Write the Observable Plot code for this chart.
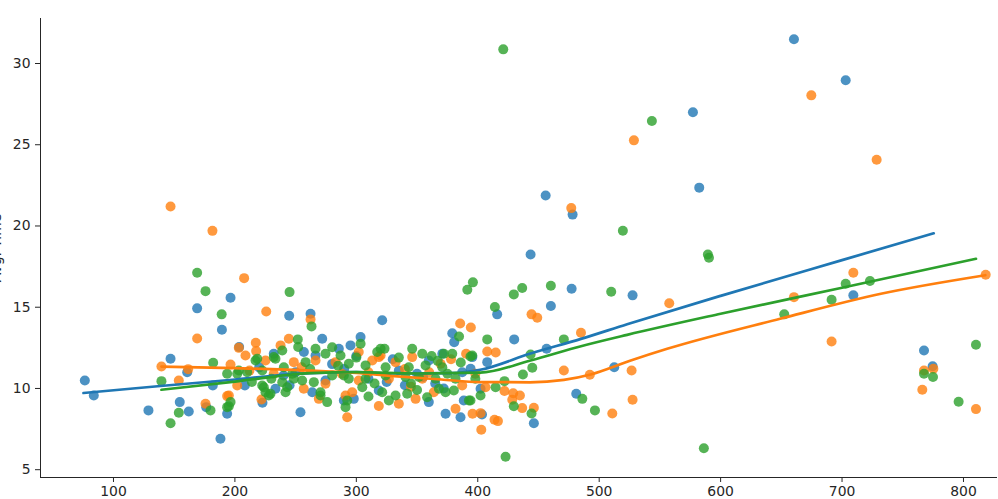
<!DOCTYPE html>
<html><head><meta charset="utf-8">
<script src="https://cdn.jsdelivr.net/npm/d3@7"></script>
<script src="https://cdn.jsdelivr.net/npm/@observablehq/plot@0.6"></script>
<style>
body{margin:0;background:#fff;overflow:hidden}
#chart{position:relative;width:998px;height:499px;overflow:hidden}
</style>
</head><body><div id="chart"></div>
<script>
// Scatter points per group: [x, y]
const blueSeries = [
[76.4,10.49],[83.8,9.57],[128.8,8.65],[147,11.83],[154.6,9.16],[162,8.58],[160.7,11.0],[168.9,14.93],
[189.3,13.61],[196.4,15.58],[176.4,8.85],[193.6,8.44],[188.1,6.9],[181.8,10.18],[203.5,12.55],[222.7,9.12],
[244.7,14.48],[254,8.54],[232,12.14],[208.2,10.18],[262.3,14.6],[271.9,13.06],[256.8,12.24],[285.6,12.44],
[266.4,12.03],[233.4,9.98],[263.7,9.77],[289.7,9.26],[274.6,10.49],[321.3,14.2],[303.5,13.16],[295.2,12.65],
[379,13.4],[380.6,12.85],[370.8,12.14],[359.7,9.16],[373.5,8.44],[385.8,8.23],[297.9,9.36],[335,11.11],
[359.7,11.72],[394.1,11.21],[388.5,9.26],[318.5,9.88],[395.5,11.93],[387.2,11.0],[402.3,9.98],[403.5,8.4],
[407.8,11.62],[416,14.56],[430,13.02],[443.5,18.25],[455.9,21.88],[456.7,12.44],[460.2,15.07],[477.3,16.14],
[478.1,20.7],[481.1,9.67],[446.2,7.86],[512.4,11.31],[527.5,15.73],[577.2,27.0],[582.4,22.36],[660.4,31.49],
[703,28.97],[709.3,15.73],[767.5,12.34],[774.6,11.37],
[250,11.0],[310,10.6],[340,10.2],[290,11.2],[350,10.9],[365,10.3],[220,11.3],[240,10.8],[330,11.8],[300,12.0],
[280,11.5],[325,10.4],[355,10.7],[372,10.0],[245,10.2]
];
const orangeSeries = [
[139.5,11.35],[147,21.2],[153.8,10.49],[161.5,11.19],[168.9,13.08],[181.5,19.7],[175.8,9.06],[193.6,9.53],
[196.4,11.48],[195,9.57],[201.9,10.18],[207.6,16.79],[203.2,12.5],[208.7,12.03],[217.2,12.81],[217.5,12.3],
[221.9,9.32],[225.8,14.74],[225.2,11.72],[237.6,12.65],[244.4,13.06],[248.5,11.62],[256.7,9.98],[262.3,14.25],
[266.4,11.72],[269.1,9.36],[274.6,10.29],[282.9,11.62],[291.1,9.57],[292.5,8.23],[296.6,9.77],[302,12.24],
[302,10.49],[313.1,11.72],[318.5,11.93],[318.5,8.92],[320,12.03],[326.8,10.6],[332.3,11.62],[335,9.06],
[346,11.93],[348.8,9.36],[354.3,10.6],[363.8,9.77],[369.4,11.52],[381.7,8.75],[385.5,14.0],[387.2,10.18],
[390.4,12.14],[394.3,13.75],[395.7,8.44],[402.3,8.48],[402.9,7.46],[406.4,10.08],[407.8,12.28],[413.8,8.07],
[414.8,12.21],[416.6,7.99],[422,9.84],[428.4,9.3],[429.2,9.71],[434.7,9.57],[436.6,8.79],[444.3,14.56],
[446.2,8.81],[449,14.35],[470.9,11.11],[477,21.1],[485,13.43],[492.3,10.84],[510.8,8.46],[526.7,11.11],
[527.5,9.3],[528.6,25.27],[557.7,15.25],[660.4,15.62],[674.7,28.04],[691.4,12.89],[709.3,17.12],[728.5,24.08],
[766.1,9.92],[767.5,11.11],[775.2,11.21],[810.3,8.73],[818.3,17.0],
[288,10.9],[310,11.0],[340,11.2],[360,11.0],[378,11.8],[398,10.9],[255,11.3],[232,10.9],[212,11.1],[345,10.1]
];
const greenSeries = [
[139.5,10.45],[147,7.86],[153.8,8.5],[168.9,17.12],[175.8,15.99],[189.1,14.56],[182.1,11.58],[179.9,8.65],
[196.4,9.16],[195,8.91],[193.6,10.9],[245,15.93],[229.3,9.67],[223.8,10.08],[201.9,10.9],[210.1,11.0],
[218.4,11.83],[232,11.93],[239,12.34],[251.8,13.02],[252.1,12.55],[243.1,10.08],[248.5,10.6],[258.2,11.62],
[240.3,11.31],[263.1,13.82],[266.4,12.44],[280.1,12.54],[274.6,12.14],[287,12.03],[233.4,11.83],[217,11.72],
[222.5,11.11],[247.2,10.9],[255.4,10.49],[239,10.39],[222.5,10.18],[225.2,9.77],[241.7,9.77],[193.6,8.85],
[227.9,9.57],[265,10.39],[270.5,9.77],[276,9.16],[270.5,9.57],[291.1,8.85],[280.1,10.8],[289.7,10.8],
[203.2,11.11],[303.5,12.75],[320,12.44],[317.2,12.24],[346,12.44],[354.3,12.14],[372.1,12.14],[379,12.14],
[384.6,13.2],[395.5,12.03],[293.8,11.52],[307.6,11.42],[324.1,11.31],[343.2,11.31],[357,11.42],[370.8,11.31],
[293.8,10.6],[307.6,10.6],[324.1,10.8],[340.5,10.7],[351.5,10.7],[365.2,10.6],[381.7,10.6],[304.9,10.08],
[321.3,9.77],[332.3,9.57],[341.9,9.67],[368,9.98],[373.5,9.77],[380.3,9.88],[358.3,9.46],[326.8,9.26],
[292.5,9.26],[392.7,9.26],[323.2,12.44],[391.4,16.08],[396,16.53],[394,11.97],[394,9.26],[402.3,9.57],
[407.8,13.02],[414.1,15.01],[414.7,10.08],[421,30.87],[422,10.45],[422.9,5.8],[429.7,15.79],[429.7,8.91],
[436.6,16.18],[437.2,10.86],[443.5,12.09],[444.3,8.46],[444.9,11.27],[460.2,16.32],[470.9,13.02],[486.1,9.36],
[496.5,8.65],[509.9,15.95],[519.5,19.71],[543.4,26.46],[586.2,6.32],[589.5,18.25],[590.4,18.05],[652.4,14.56],
[691.4,15.46],[703,16.45],[723,16.61],[767.5,10.9],[774.9,10.7],[796,9.18],[810.3,12.69],
[300,11.9],[315,10.3],[335,11.9],[345,10.3],[362,12.0],[375,10.9],[386,11.6],[398,10.6],[310,9.5],[285,11.4],
[262,11.2],[230,10.6],[214,10.4],[350,9.9],[367,11.7]
];
// Smoothed (lowess) curves: [x, y]
const blueFit = [[75.3,9.72],[138.7,10.15],[200,10.55],[262,10.95],[300,11.0],[328,10.92],[378,10.95],[402,11.15],[443.5,12.15],[485,13.05],[523,13.95],[600,15.7],[700,17.9],[775.5,19.55]];
const orangeFit = [[139.5,11.35],[200,11.25],[262,11.1],[300,10.95],[328,10.78],[370,10.55],[402,10.39],[443,10.38],[471,10.53],[493,10.86],[526,11.72],[556,12.44],[649,14.29],[732,15.83],[818,16.97]];
const greenFit = [[139.5,9.92],[200,10.42],[262,10.94],[300,11.0],[350,10.92],[402,10.97],[443.5,11.72],[485,12.6],[523,13.3],[600,14.6],[700,16.2],[810.3,17.98]];

const xTicks = [100,200,300,400,500,600,700,800];
const yTicks = [5,10,15,20,25,30];
const xDomain = [39.9, 827.2];
const yDomain = [4.52, 32.77];
const colors = ["#1f77b4","#ff7f0e","#2ca02c"];
const yTitle = "Avg. Time";

const px = d => d[0], py = d => d[1];
const dotOpts = c => ({x: px, y: py, r: 5, fill: c, fillOpacity: 0.8, stroke: "none"});
const lineOpts = c => ({x: px, y: py, stroke: c, strokeWidth: 2.7, curve: "monotone-x"});

const chart = Plot.plot({
  width: 998, height: 499,
  marginLeft: 40, marginRight: 2, marginTop: 18, marginBottom: 22,
  style: {fontFamily: "DejaVu Sans", fontSize: "13.9px", color: "#262626", background: "white"},
  x: {domain: xDomain, ticks: xTicks, tickSize: 5, tickPadding: 4, line: true, label: null, tickFormat: d => String(d)},
  y: {domain: yDomain, ticks: yTicks, tickSize: 5, tickPadding: 5, line: true, label: null, tickFormat: d => String(d)},
  marks: [
    Plot.dot(blueSeries, dotOpts(colors[0])),
    Plot.dot(orangeSeries, dotOpts(colors[1])),
    Plot.dot(greenSeries, dotOpts(colors[2])),
    Plot.line(blueFit, lineOpts(colors[0])),
    Plot.line(orangeFit, lineOpts(colors[1])),
    Plot.line(greenFit, lineOpts(colors[2]))
  ]
});
document.getElementById("chart").appendChild(chart);
d3.select(chart).append("text")
  .attr("transform", "translate(1,248) rotate(-90)")
  .attr("text-anchor", "middle")
  .attr("fill", "#262626")
  .style("font-size", "13.9px")
  .style("font-family", "DejaVu Sans")
  .text(yTitle);
</script>
</body></html>
